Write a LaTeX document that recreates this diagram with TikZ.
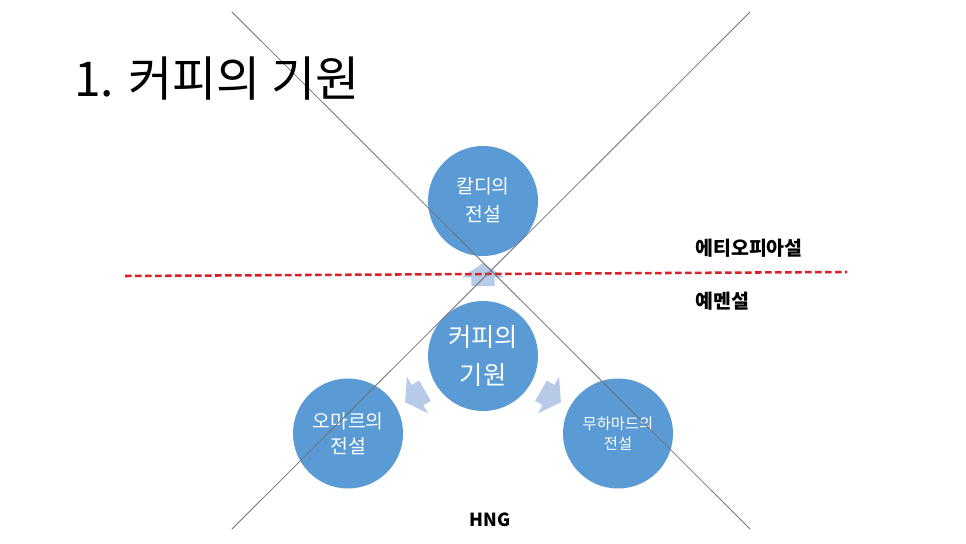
\documentclass[tikz,border=0pt]{standalone}
\usepackage{fontspec}
\setmainfont{Noto Sans CJK KR}
\usetikzlibrary{arrows}
\usetikzlibrary{shapes.arrows}
\definecolor{legendblue}{HTML}{5B9BD5}
\definecolor{paleblue}{HTML}{B7CBE8}
\definecolor{dashred}{HTML}{DC1F26}
\tikzset{
  legend/.style={circle,fill=legendblue,text=white,minimum size=82.5pt,inner sep=0pt,align=center},
  flow/.style={single arrow,fill=paleblue,minimum height=17.25pt,minimum width=25.5pt,
    inner xsep=0pt,inner ysep=8.6pt,single arrow tip angle=112,anchor=center},
  cross/.style={line width=0.6pt,color=black!55}
}
\begin{document}
\begin{tikzpicture}[line cap=round,line join=round,x=0.75pt,y=0.75pt]
      \clip(0.,0.) rectangle (966.,543.);
      \fill [white] (0.,0.) rectangle (966.,543.);
      \node [flow,rotate=90] (arrowup) at (483.,264.5) {};
      \node [flow,rotate=210] (arrowleft) at (418.5,148.5) {};
      \node [flow,rotate=-30] (arrowright) at (547.5,148.5) {};
      \node [legend,font=\fontsize{19}{28}\selectfont] (origin) at (483.,187.) {커피의\\기원};
      \node [legend] (kaldi) at (483.,342.) {};
      \node [text=white,inner sep=0pt,align=center,font=\fontsize{14.5}{21}\selectfont] (kaldilabel) at (483.,343.) {칼디의\\전설};
      \node [legend,font=\fontsize{14.5}{19}\selectfont] (omar) at (348.,109.5) {오마르의\\전설};
      \node [legend,font=\fontsize{11.5}{15}\selectfont] (muhammad) at (618.,109.5) {무하마드의\\전설};
      \coordinate (nw) at (232.,531.);
      \coordinate (ne) at (750.,531.);
      \coordinate (sw) at (232.,14.);
      \coordinate (se) at (750.,14.);
      \coordinate (dashl) at (125.,267.);
      \coordinate (dashr) at (847.,271.);
      \draw [line width=1.9pt,color=dashred,dash pattern=on 5pt off 2.5pt,line cap=butt] (dashl)-- (dashr);
      \draw [cross] (nw)-- (se);
      \draw [cross] (ne)-- (sw);
      \node [anchor=base west,inner sep=0pt,font=\fontsize{36}{36}\selectfont] (title) at (74.,446.) {1. 커피의 기원};
      \node [anchor=west,inner sep=0pt,font=\fontsize{14.6}{16}\bfseries] (ethiopia) at (695.,295.) {에티오피아설};
      \node [anchor=west,inner sep=0pt,font=\fontsize{14.6}{16}\bfseries] (yemen) at (695.,242.) {예멘설};
      \node [font=\fontsize{13.5}{14}\bfseries] (hng) at (490.,23.) {HNG};
    \end{tikzpicture}
\end{document}
